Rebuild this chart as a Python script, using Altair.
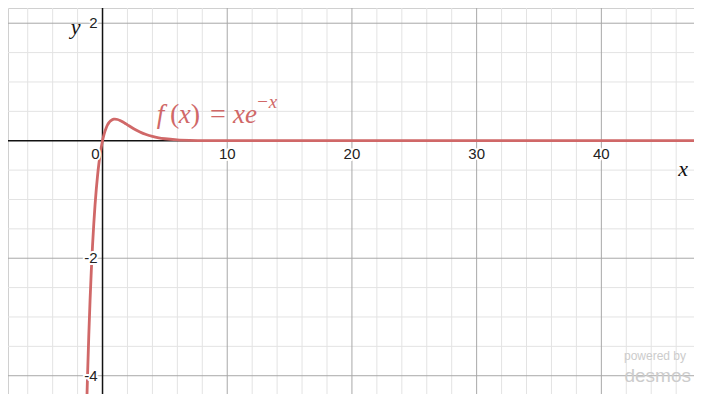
import altair as alt
import pandas as pd

# f(x) = x e^(-x)
curve_x = [-1.3, -1.25, -1.2, -1.1, -1.0, -0.9, -0.8, -0.7, -0.6, -0.5, -0.4, -0.3,
           -0.2, -0.1, 0.0, 0.1, 0.2, 0.3, 0.4, 0.5, 0.6, 0.7, 0.8, 0.9, 1.0, 1.2,
           1.4, 1.6, 1.8, 2.0, 2.5, 3.0, 3.5, 4.0, 4.5, 5, 6, 7, 8, 9, 10, 12, 15,
           20, 30, 40, 48]
curve_y = [-4.770, -4.363, -3.984, -3.305, -2.718, -2.214, -1.780, -1.410, -1.093,
           -0.824, -0.597, -0.405, -0.244, -0.111, 0.0, 0.0905, 0.1637, 0.2222,
           0.2681, 0.3033, 0.3293, 0.3476, 0.3595, 0.3659, 0.3679, 0.3614, 0.3452,
           0.3230, 0.2975, 0.2707, 0.2052, 0.1494, 0.1057, 0.0733, 0.0500, 0.0337,
           0.0149, 0.0064, 0.0027, 0.0011, 0.00045, 0.00007, 0.0, 0.0, 0.0, 0.0, 0.0]

# grid lines
x_minor = [-6, -4, -2, 2, 4, 6, 8, 12, 14, 16, 18, 22, 24, 26, 28, 32, 34, 36, 38,
           42, 44, 46]
x_major = [10, 20, 30, 40]
y_minor = [-3.5, -3, -2.5, -1.5, -1, -0.5, 0.5, 1, 1.5]
y_major = [-4, -2, 2]

# tick labels
x_ticks = [10, 20, 30, 40]
y_ticks = [2, -2, -4]
y_tick_text = ["2", "-2", "-4"]

# curve label "f(x) = xe^-x", split into italic and upright pieces (data units)
italic_text = ["f", "x", "xe"]
italic_x = [4.35, 6.12, 10.47]
upright_text = ["(", ")", "="]
upright_x = [5.41, 7.08, 8.62]
label_base = 0.301
sup_text = ["\u2212x"]
sup_x = [12.3]
sup_y = [0.56]

xs = alt.Scale(domain=[-7.58, 47.43], nice=False, zero=False)
ys = alt.Scale(domain=[-4.311, 2.259], nice=False, zero=False)

RED = "#d06868"
SANS = "Liberation Sans"
SERIF = "Liberation Serif"


def vrules(values, color, width=1.0):
    df = pd.DataFrame({"v": values})
    return alt.Chart(df).mark_rule(color=color, strokeWidth=width).encode(
        x=alt.X("v:Q", scale=xs, axis=None)
    )


def hrules(values, color, width=1.0):
    df = pd.DataFrame({"v": values})
    return alt.Chart(df).mark_rule(color=color, strokeWidth=width).encode(
        y=alt.Y("v:Q", scale=ys, axis=None)
    )


def text_layer(df, **style):
    return alt.Chart(df).mark_text(**style).encode(
        x=alt.X("x:Q", scale=xs, axis=None),
        y=alt.Y("y:Q", scale=ys, axis=None),
        text="t:N",
    )


curve = alt.Chart(pd.DataFrame({"x": curve_x, "y": curve_y})).mark_line(
    color=RED, strokeWidth=2.8, interpolate="monotone", clip=True
).encode(
    x=alt.X("x:Q", scale=xs, axis=None),
    y=alt.Y("y:Q", scale=ys, axis=None),
)

xt = pd.DataFrame({"x": x_ticks, "y": [0] * len(x_ticks), "t": [str(v) for v in x_ticks]})
yt = pd.DataFrame({"x": [0] * len(y_ticks), "y": y_ticks, "t": y_tick_text})
zt = pd.DataFrame({"x": [0], "y": [0], "t": ["0"]})


def tick_text(df, halo, **kw):
    style = dict(font=SANS, fontSize=15, color="#222222")
    if halo:
        style.update(stroke="white", strokeWidth=4, strokeJoin="round", color="white")
    style.update(kw)
    return text_layer(df, **style)


ticks = []
for halo in (True, False):
    ticks.append(tick_text(xt, halo, align="center", baseline="top", dy=6))
    ticks.append(tick_text(yt, halo, align="right", baseline="middle", dx=-5))
    ticks.append(tick_text(zt, halo, align="right", baseline="top", dx=-3, dy=6))

fx_italic = text_layer(
    pd.DataFrame({"x": italic_x, "y": [label_base] * 3, "t": italic_text}),
    font=SERIF, fontSize=27, fontStyle="italic", color=RED, align="left",
    baseline="alphabetic",
)
fx_upright = text_layer(
    pd.DataFrame({"x": upright_x, "y": [label_base] * 3, "t": upright_text}),
    font=SERIF, fontSize=28, color=RED, align="left", baseline="alphabetic",
)
fx_sup = text_layer(
    pd.DataFrame({"x": sup_x, "y": sup_y, "t": sup_text}),
    font=SERIF, fontSize=19, fontStyle="italic", color=RED, align="left",
    baseline="alphabetic",
)

axis_names = text_layer(
    pd.DataFrame({"x": [46.55, -2.165], "y": [-0.482, 1.935], "t": ["x", "y"]}),
    font=SERIF, fontSize=22, fontStyle="italic", color="#111111", align="center",
    baseline="middle",
)

powered = alt.Chart(pd.DataFrame({"t": ["powered by"]})).mark_text(
    font=SANS, fontSize=12, color="#cccccc", align="right", baseline="alphabetic"
).encode(x=alt.value(678), y=alt.value(352), text="t:N")

logo = alt.Chart(pd.DataFrame({"t": ["desmos"]})).mark_text(
    font=SANS, fontSize=19, color="#cccccc", align="right", baseline="alphabetic"
).encode(x=alt.value(683), y=alt.value(374), text="t:N")

chart = alt.layer(
    vrules(x_minor, "#e3e3e3"),
    hrules(y_minor, "#e3e3e3"),
    vrules(x_major, "#a8a8a8"),
    hrules(y_major, "#a8a8a8"),
    vrules([0], "#111111", 1.5),
    hrules([0], "#111111", 1.5),
    curve,
    *ticks,
    fx_italic,
    fx_upright,
    fx_sup,
    axis_names,
    powered,
    logo,
).properties(
    width=686,
    height=386,
    padding=0,
    autosize=alt.AutoSizeParams(type="none"),
).configure_view(stroke="#d0d0d0")

chart.save("out.html", embed_options={"renderer": "svg", "actions": False})
